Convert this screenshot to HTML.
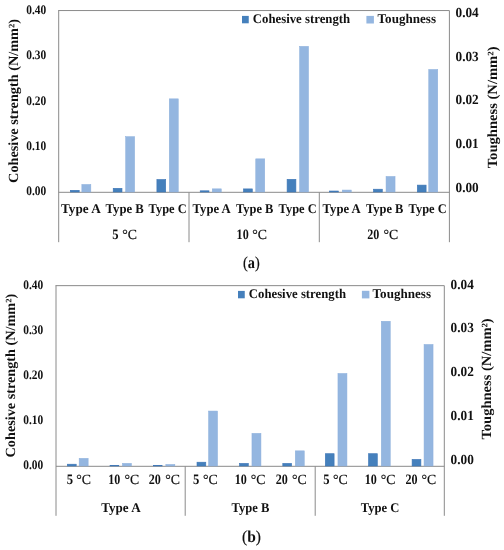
<!DOCTYPE html>
<html lang="en"><head><meta charset="utf-8"><title>Cohesive strength and toughness</title>
<style>
html,body{margin:0;padding:0;background:#fff;}
body{width:504px;height:550px;overflow:hidden;}
svg{display:block;}
text{font-family:"Liberation Serif",serif;fill:#111;text-rendering:geometricPrecision;}
.b{font-weight:bold;}
.r{font-weight:normal;}
.rs{stroke:#111;stroke-width:0.2;}
.ax{stroke:#8a8a8a;stroke-width:1;fill:none;}
.d{fill:#4580bc;stroke:#3c75b6;stroke-width:0.6;}
.l{fill:#94b6e0;stroke:#8cafdc;stroke-width:0.5;}
</style></head><body>
<svg width="504" height="550" viewBox="0 0 504 550">
<rect x="0" y="0" width="504" height="550" fill="#fff"/>
<g>
<path class="ax" d="M58.20 10.55H449.40V242.20"/>
<path class="ax" d="M58.70 10.55V242.20"/>
<path class="ax" d="M58.70 192.30H449.40"/>
<path class="ax" d="M189.00 192.30V242.20"/>
<path class="ax" d="M319.30 192.30V242.20"/>
<rect class="d" x="70.40" y="190.30" width="8.8" height="1.70"/>
<rect class="l" x="81.85" y="184.45" width="9.0" height="7.55"/>
<rect class="d" x="113.20" y="188.30" width="8.8" height="3.70"/>
<rect class="l" x="125.65" y="136.65" width="9.0" height="55.35"/>
<rect class="d" x="156.90" y="179.50" width="8.8" height="12.50"/>
<rect class="l" x="169.25" y="98.85" width="9.0" height="93.15"/>
<rect class="d" x="200.20" y="190.80" width="8.8" height="1.20"/>
<rect class="l" x="212.25" y="188.85" width="9.0" height="3.15"/>
<rect class="d" x="243.50" y="188.90" width="8.8" height="3.10"/>
<rect class="l" x="255.75" y="158.85" width="9.0" height="33.15"/>
<rect class="d" x="287.10" y="179.30" width="8.8" height="12.70"/>
<rect class="l" x="299.55" y="46.35" width="9.0" height="145.65"/>
<rect class="d" x="329.60" y="191.00" width="8.8" height="1.00"/>
<rect class="l" x="342.25" y="190.05" width="9.0" height="1.95"/>
<rect class="d" x="373.50" y="189.20" width="8.8" height="2.80"/>
<rect class="l" x="386.05" y="176.45" width="9.0" height="15.55"/>
<rect class="d" x="417.30" y="185.10" width="8.8" height="6.90"/>
<rect class="l" x="428.75" y="69.45" width="9.0" height="122.55"/>
<text class="b" x="46.2" y="14.0" font-size="13" text-anchor="end" textLength="20" lengthAdjust="spacingAndGlyphs">0.40</text>
<text class="b" x="46.2" y="59.0" font-size="13" text-anchor="end" textLength="20" lengthAdjust="spacingAndGlyphs">0.30</text>
<text class="b" x="46.2" y="105.0" font-size="13" text-anchor="end" textLength="20" lengthAdjust="spacingAndGlyphs">0.20</text>
<text class="b" x="46.2" y="150.0" font-size="13" text-anchor="end" textLength="20" lengthAdjust="spacingAndGlyphs">0.10</text>
<text class="b" x="46.2" y="195.0" font-size="13" text-anchor="end" textLength="20" lengthAdjust="spacingAndGlyphs">0.00</text>
<text class="b" x="455.5" y="17.0" font-size="14" textLength="23.2" lengthAdjust="spacingAndGlyphs">0.04</text>
<text class="b" x="455.5" y="61.0" font-size="14" textLength="23.2" lengthAdjust="spacingAndGlyphs">0.03</text>
<text class="b" x="455.5" y="104.0" font-size="14" textLength="23.2" lengthAdjust="spacingAndGlyphs">0.02</text>
<text class="b" x="455.5" y="148.0" font-size="14" textLength="23.2" lengthAdjust="spacingAndGlyphs">0.01</text>
<text class="b" x="455.5" y="192.0" font-size="14" textLength="23.2" lengthAdjust="spacingAndGlyphs">0.00</text>
<text class="b" font-size="14" text-anchor="middle" textLength="163.8" lengthAdjust="spacingAndGlyphs" transform="translate(17.9 101.0) rotate(-90)">Cohesive strength (N/mm²)</text>
<text class="b" font-size="14" text-anchor="middle" textLength="121.8" lengthAdjust="spacingAndGlyphs" transform="translate(496.7 107.4) rotate(-90)">Toughness (N/mm²)</text>
<text class="b" font-size="13.3" x="61.0" y="213.0" textLength="39.7" lengthAdjust="spacingAndGlyphs">Type A</text>
<text class="b" font-size="13.3" x="105.5" y="213.0" textLength="38.3" lengthAdjust="spacingAndGlyphs">Type B</text>
<text class="b" font-size="13.3" x="148.6" y="213.0" textLength="38.1" lengthAdjust="spacingAndGlyphs">Type C</text>
<text class="b" font-size="13.3" x="192.6" y="213.0" textLength="38.1" lengthAdjust="spacingAndGlyphs">Type A</text>
<text class="b" font-size="13.3" x="236.0" y="213.0" textLength="37.4" lengthAdjust="spacingAndGlyphs">Type B</text>
<text class="b" font-size="13.3" x="278.6" y="213.0" textLength="38.1" lengthAdjust="spacingAndGlyphs">Type C</text>
<text class="b" font-size="13.3" x="322.6" y="213.0" textLength="38.1" lengthAdjust="spacingAndGlyphs">Type A</text>
<text class="b" font-size="13.3" x="366.0" y="213.0" textLength="37.4" lengthAdjust="spacingAndGlyphs">Type B</text>
<text class="b" font-size="13.3" x="408.6" y="213.0" textLength="38.1" lengthAdjust="spacingAndGlyphs">Type C</text>
<text class="b" font-size="14.4" x="112.3" y="239.0" textLength="6.3" lengthAdjust="spacingAndGlyphs">5</text><text class="r rs" font-size="14" x="136.9" y="239.0" text-anchor="end" textLength="14.7" lengthAdjust="spacingAndGlyphs">°C</text>
<text class="b" font-size="14.4" x="236.6" y="239.0" textLength="12.1" lengthAdjust="spacingAndGlyphs">10</text><text class="r rs" font-size="14" x="267.0" y="239.0" text-anchor="end" textLength="14.7" lengthAdjust="spacingAndGlyphs">°C</text>
<text class="b" font-size="14.4" x="367.2" y="239.0" textLength="12.1" lengthAdjust="spacingAndGlyphs">20</text><text class="r rs" font-size="14" x="398.2" y="239.0" text-anchor="end" textLength="14.7" lengthAdjust="spacingAndGlyphs">°C</text>
<rect x="242.0" y="15.9" width="6.75" height="7.4" fill="#4580bc"/>
<text class="b" font-size="13.3" x="252.8" y="23.0" textLength="97.4" lengthAdjust="spacingAndGlyphs">Cohesive strength</text>
<rect x="366.4" y="15.9" width="7.5" height="7.6" fill="#94b6e0"/>
<text class="b" font-size="13.3" x="377.6" y="23.0" textLength="58.4" lengthAdjust="spacingAndGlyphs">Toughness</text>
<text class="r" font-size="16.5" x="251.3" y="268.0" text-anchor="middle" textLength="16.7" lengthAdjust="spacingAndGlyphs"><tspan class="rs">(</tspan><tspan class="b">a</tspan><tspan class="rs">)</tspan></text>
</g>
<g>
<path class="ax" d="M55.50 285.65H444.30V515.80"/>
<path class="ax" d="M56.00 285.65V515.80"/>
<path class="ax" d="M56.00 466.30H444.30"/>
<path class="ax" d="M185.20 466.30V515.80"/>
<path class="ax" d="M315.20 466.30V515.80"/>
<rect class="d" x="67.40" y="464.20" width="8.8" height="1.80"/>
<rect class="l" x="79.15" y="458.35" width="9.0" height="7.65"/>
<rect class="d" x="110.00" y="465.30" width="8.8" height="0.70"/>
<rect class="l" x="122.45" y="463.35" width="9.0" height="2.65"/>
<rect class="d" x="153.30" y="465.30" width="8.8" height="0.70"/>
<rect class="l" x="165.85" y="464.45" width="9.0" height="1.55"/>
<rect class="d" x="197.00" y="462.20" width="8.8" height="3.80"/>
<rect class="l" x="208.55" y="411.05" width="9.0" height="54.95"/>
<rect class="d" x="239.50" y="463.40" width="8.8" height="2.60"/>
<rect class="l" x="251.95" y="433.35" width="9.0" height="32.65"/>
<rect class="d" x="282.80" y="463.40" width="8.8" height="2.60"/>
<rect class="l" x="295.25" y="450.85" width="9.0" height="15.15"/>
<rect class="d" x="325.30" y="453.70" width="8.8" height="12.30"/>
<rect class="l" x="337.95" y="373.45" width="9.0" height="92.55"/>
<rect class="d" x="368.50" y="453.70" width="8.8" height="12.30"/>
<rect class="l" x="381.25" y="321.25" width="9.0" height="144.75"/>
<rect class="d" x="412.10" y="459.40" width="8.8" height="6.60"/>
<rect class="l" x="424.05" y="344.45" width="9.0" height="121.55"/>
<text class="b" x="43.3" y="289.0" font-size="13" text-anchor="end" textLength="20" lengthAdjust="spacingAndGlyphs">0.40</text>
<text class="b" x="43.3" y="334.0" font-size="13" text-anchor="end" textLength="20" lengthAdjust="spacingAndGlyphs">0.30</text>
<text class="b" x="43.3" y="379.0" font-size="13" text-anchor="end" textLength="20" lengthAdjust="spacingAndGlyphs">0.20</text>
<text class="b" x="43.3" y="424.0" font-size="13" text-anchor="end" textLength="20" lengthAdjust="spacingAndGlyphs">0.10</text>
<text class="b" x="43.3" y="469.0" font-size="13" text-anchor="end" textLength="20" lengthAdjust="spacingAndGlyphs">0.00</text>
<text class="b" x="450.6" y="289.0" font-size="14" textLength="23.2" lengthAdjust="spacingAndGlyphs">0.04</text>
<text class="b" x="450.6" y="332.0" font-size="14" textLength="23.2" lengthAdjust="spacingAndGlyphs">0.03</text>
<text class="b" x="450.6" y="376.0" font-size="14" textLength="23.2" lengthAdjust="spacingAndGlyphs">0.02</text>
<text class="b" x="450.6" y="420.0" font-size="14" textLength="23.2" lengthAdjust="spacingAndGlyphs">0.01</text>
<text class="b" x="450.6" y="464.0" font-size="14" textLength="23.2" lengthAdjust="spacingAndGlyphs">0.00</text>
<text class="b" font-size="14" text-anchor="middle" textLength="163.6" lengthAdjust="spacingAndGlyphs" transform="translate(15.2 375.6) rotate(-90)">Cohesive strength (N/mm²)</text>
<text class="b" font-size="14" text-anchor="middle" textLength="121.2" lengthAdjust="spacingAndGlyphs" transform="translate(491.4 378.9) rotate(-90)">Toughness (N/mm²)</text>
<text class="b" font-size="14.4" x="66.7" y="484.0" textLength="6.3" lengthAdjust="spacingAndGlyphs">5</text><text class="r rs" font-size="14" x="91.0" y="484.0" text-anchor="end" textLength="14.7" lengthAdjust="spacingAndGlyphs">°C</text>
<text class="b" font-size="14.4" x="108.3" y="484.0" textLength="12.1" lengthAdjust="spacingAndGlyphs">10</text><text class="r rs" font-size="14" x="139.1" y="484.0" text-anchor="end" textLength="14.7" lengthAdjust="spacingAndGlyphs">°C</text>
<text class="b" font-size="14.4" x="148.8" y="484.0" textLength="12.1" lengthAdjust="spacingAndGlyphs">20</text><text class="r rs" font-size="14" x="179.9" y="484.0" text-anchor="end" textLength="14.7" lengthAdjust="spacingAndGlyphs">°C</text>
<text class="b" font-size="14.4" x="193.0" y="484.0" textLength="6.3" lengthAdjust="spacingAndGlyphs">5</text><text class="r rs" font-size="14" x="217.6" y="484.0" text-anchor="end" textLength="14.7" lengthAdjust="spacingAndGlyphs">°C</text>
<text class="b" font-size="14.4" x="234.7" y="484.0" textLength="12.1" lengthAdjust="spacingAndGlyphs">10</text><text class="r rs" font-size="14" x="265.4" y="484.0" text-anchor="end" textLength="14.7" lengthAdjust="spacingAndGlyphs">°C</text>
<text class="b" font-size="14.4" x="275.8" y="484.0" textLength="12.1" lengthAdjust="spacingAndGlyphs">20</text><text class="r rs" font-size="14" x="306.6" y="484.0" text-anchor="end" textLength="14.7" lengthAdjust="spacingAndGlyphs">°C</text>
<text class="b" font-size="14.4" x="323.3" y="484.0" textLength="6.3" lengthAdjust="spacingAndGlyphs">5</text><text class="r rs" font-size="14" x="347.7" y="484.0" text-anchor="end" textLength="14.7" lengthAdjust="spacingAndGlyphs">°C</text>
<text class="b" font-size="14.4" x="364.7" y="484.0" textLength="12.1" lengthAdjust="spacingAndGlyphs">10</text><text class="r rs" font-size="14" x="395.4" y="484.0" text-anchor="end" textLength="14.7" lengthAdjust="spacingAndGlyphs">°C</text>
<text class="b" font-size="14.4" x="405.5" y="484.0" textLength="12.1" lengthAdjust="spacingAndGlyphs">20</text><text class="r rs" font-size="14" x="436.2" y="484.0" text-anchor="end" textLength="14.7" lengthAdjust="spacingAndGlyphs">°C</text>
<text class="b" font-size="13.3" x="101.2" y="512.0" textLength="39.4" lengthAdjust="spacingAndGlyphs">Type A</text>
<text class="b" font-size="13.3" x="231.5" y="512.0" textLength="37.9" lengthAdjust="spacingAndGlyphs">Type B</text>
<text class="b" font-size="13.3" x="360.7" y="512.0" textLength="38.7" lengthAdjust="spacingAndGlyphs">Type C</text>
<rect x="238.0" y="290.9" width="6.75" height="7.4" fill="#4580bc"/>
<text class="b" font-size="13.3" x="248.8" y="298.0" textLength="97.2" lengthAdjust="spacingAndGlyphs">Cohesive strength</text>
<rect x="361.9" y="290.8" width="7.5" height="7.6" fill="#94b6e0"/>
<text class="b" font-size="13.3" x="372.6" y="298.0" textLength="58.4" lengthAdjust="spacingAndGlyphs">Toughness</text>
<text class="r" font-size="16.5" x="251.5" y="542.0" text-anchor="middle" textLength="19.0" lengthAdjust="spacingAndGlyphs"><tspan class="rs">(</tspan><tspan class="b">b</tspan><tspan class="rs">)</tspan></text>
</g>
</svg>
</body></html>
